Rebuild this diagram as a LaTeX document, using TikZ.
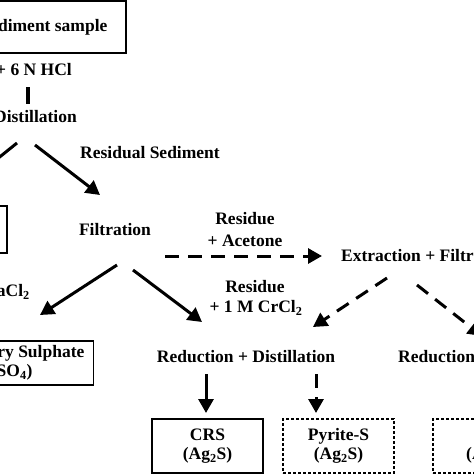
\documentclass[tikz,border=0pt]{standalone}
\usepackage{fontspec}
\setmainfont{Liberation Serif}
\usetikzlibrary{arrows.meta}
\begin{document}
\begin{tikzpicture}[x=1pt,y=-1pt,
  lbl/.style={font=\fontsize{17.5}{19.5}\selectfont\bfseries, inner sep=0pt},
  boxs/.style={draw, line width=1.6pt, inner sep=0pt, align=center},
  dbox/.style={boxs, dash pattern=on 3pt off 2pt},
  arr/.style={line width=3pt, -{Triangle[length=14pt,width=15pt]}},
  darr/.style={arr, dash pattern=on 14pt off 9pt},
]
\useasboundingbox (0,0) rectangle (474,474);
\clip (0,0) rectangle (474,474);
% nodes
\node[boxs, lbl, minimum width=164pt, minimum height=52pt] (sed) at (44,27) {Sediment sample};
\node[lbl, anchor=east] (hcl) at (72,70) {+ 6 N HCl};
\node[lbl, anchor=east] (dist) at (77,117) {Distillation};
\node[lbl] (resid) at (150,153) {Residual Sediment};
\node[boxs, minimum width=120pt, minimum height=47pt] (avs) at (-53,229.5) {};
\node[lbl] (filt) at (115,230) {Filtration};
\node[lbl, anchor=east] (bacl) at (30,292) {+ BaCl\textsubscript{2}};
\node[boxs, lbl, inner xsep=9pt, minimum height=44pt] (sulph) at (1.5,363) {Sedimentary Sulphate\\(BaSO\textsubscript{4})};
\node[lbl] (res1) at (245,219) {Residue};
\node[lbl] (acet) at (245,241) {+ Acetone};
\node[lbl, anchor=west] (extr) at (341,256) {Extraction + Filtration};
\node[lbl] (res2) at (255,287) {Residue};
\node[lbl] (crcl) at (256,308) {+ 1 M CrCl\textsubscript{2}};
\node[lbl] (red) at (246,357) {Reduction + Distillation};
\node[lbl, anchor=west] (red2) at (398,357) {Reduction + Distillation};
\node[boxs, lbl, minimum width=111pt, minimum height=54pt] (crs) at (207.5,446) {CRS\\(Ag\textsubscript{2}S)};
\node[dbox, lbl, minimum width=111pt, minimum height=54pt] (pyr) at (338.5,446) {Pyrite-S\\(Ag\textsubscript{2}S)};
\node[dbox, minimum width=111pt, minimum height=54pt] (third) at (488.5,446) {};
\node[lbl, anchor=west] (thirdt) at (466,455) {(Ag\textsubscript{2}S)};
% connector endpoints
\coordinate (h1) at (28,87);
\coordinate (h2) at (28,104);
\coordinate (d1) at (17,143);
\coordinate (d1e) at (-45,193);
\coordinate (d2) at (35,145);
\coordinate (d2e) at (100,195);
\coordinate (f1) at (117,265);
\coordinate (f1e) at (40,315);
\coordinate (f2) at (133,270);
\coordinate (f2e) at (202,322);
\coordinate (f3) at (165,256);
\coordinate (f3e) at (322,256);
\coordinate (e1) at (387,278);
\coordinate (e1e) at (313,327);
\coordinate (e2) at (417,285);
\coordinate (e2e) at (482,336);
\coordinate (r1) at (206,374);
\coordinate (r1e) at (206,413);
\coordinate (r2) at (316,374);
\coordinate (r2e) at (316,413);
% connectors
\draw[line width=3.5pt] (h1) -- (h2);
\draw[arr] (d1) -- (d1e);
\draw[arr] (d2) -- (d2e);
\draw[arr] (f1) -- (f1e);
\draw[arr] (f2) -- (f2e);
\draw[darr] (f3) -- (f3e);
\draw[darr] (e1) -- (e1e);
\draw[darr] (e2) -- (e2e);
\draw[arr] (r1) -- (r1e);
\draw[darr] (r2) -- (r2e);
\end{tikzpicture}
\end{document}
